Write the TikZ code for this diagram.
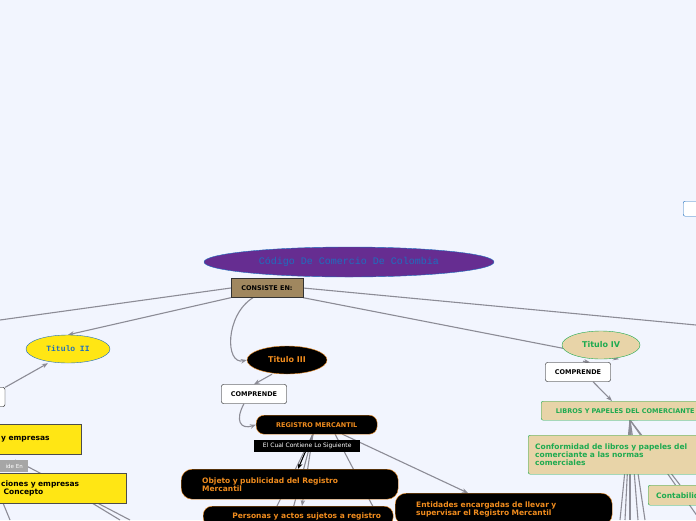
\documentclass[tikz,border=0pt]{standalone}
\usepackage{fontspec}
\setmainfont{DejaVu Sans}
\newfontfamily\monof{Liberation Mono}
\usetikzlibrary{shapes.geometric,arrows.meta,backgrounds}
\pgfdeclarelayer{bgfill}
\pgfsetlayers{bgfill,background,main}
\definecolor{bg}{RGB}{242,245,254}
\definecolor{purp}{RGB}{102,45,145}
\definecolor{blu}{RGB}{30,110,190}
\definecolor{brn}{RGB}{160,135,95}
\definecolor{org}{RGB}{240,140,30}
\definecolor{tan}{RGB}{232,212,168}
\definecolor{grn}{RGB}{30,170,80}
\definecolor{yel}{RGB}{255,230,20}
\definecolor{ln}{RGB}{140,140,150}
\tikzset{
 con/.style={draw=ln,line width=1.1pt},
 arr/.style={con,-{Stealth[length=6pt]}},
 blk/.style={draw=org,fill=black,text=org,font=\bfseries\fontsize{7.5}{8}\selectfont,rounded corners=11pt,align=left,anchor=north west,inner sep=0pt},
 wb/.style={draw=black,fill=white,rounded corners=2pt,font=\bfseries\fontsize{6.5}{7}\selectfont,minimum height=19pt,inner sep=3pt},
 tb/.style={draw=grn,fill=tan,text=grn,font=\bfseries\fontsize{7.5}{8}\selectfont,rounded corners=2pt,align=left,anchor=north west,inner sep=0pt},
 yb/.style={draw=black!70,fill=yel,font=\bfseries\fontsize{7.5}{8.5}\selectfont,align=left,anchor=north west,inner sep=0pt},
}
\begin{document}
\begin{tikzpicture}[x=1pt,y=-1pt]
\begin{pgfonlayer}{bgfill}
\fill[bg] (0,0) rectangle (696,520);
\end{pgfonlayer}
\useasboundingbox (0,0) rectangle (696,520);
% nodes
\node[ellipse,draw=blu,fill=purp,text=blu,minimum width=290pt,minimum height=30pt,font=\monof\fontsize{10}{11}\selectfont] (main) at (349,262) {Código De Comercio De Colombia};
\node[draw=black!80,fill=brn,minimum width=72pt,minimum height=19pt,inner sep=0pt,font=\bfseries\fontsize{6.5}{7}\selectfont] (cons) at (267,288) {CONSISTE EN:};
\node[ellipse,draw=blu,fill=yel,text=blu,minimum width=84pt,minimum height=28pt,font=\monof\bfseries\fontsize{8}{9}\selectfont] (t2) at (68,349) {Titulo II};
\node[ellipse,draw=org,fill=black,text=org,minimum width=80pt,minimum height=28pt,font=\bfseries\fontsize{8}{9}\selectfont] (t3) at (287,360) {Titulo III};
\node[ellipse,draw=grn,fill=tan,text=grn,minimum width=78pt,minimum height=28pt,font=\bfseries\fontsize{8}{9}\selectfont] (t4) at (601,345) {Titulo IV};
\node[draw=black,fill=white,rounded corners=2pt,minimum width=12pt,minimum height=19pt] (b2) at (-1,397) {};
\node[yb,minimum width=82pt,minimum height=30pt,text width=82pt] (y1) at (-1,424) {\hspace*{2pt}y empresas\\[7pt]};
\node[fill=gray!70,text=white,font=\fontsize{5.5}{6}\selectfont,anchor=north west,minimum width=28pt,minimum height=12pt,inner sep=1pt] (lab2) at (0,460) {ide En};
\node[yb,minimum width=127pt,minimum height=30pt,text width=127pt] (y2) at (-1,473) {\hspace*{2pt}ciones y empresas\\\hspace*{2pt}\ Concepto};
\node[wb,minimum width=65pt] (c3) at (254,394) {COMPRENDE};
\node[blk,minimum width=121pt,minimum height=19pt,rounded corners=8pt,font=\bfseries\fontsize{6.5}{7}\selectfont,align=center] (reg) at (256,415) {REGISTRO MERCANTIL};
\node[fill=black,text=white,font=\fontsize{6}{6.5}\selectfont,anchor=north west,minimum width=106pt,minimum height=12pt,inner sep=1pt] (lab3) at (254,440) {El Cual Contiene Lo Siguiente};
\node[blk,minimum width=217pt,minimum height=30pt,text width=217pt] (obj) at (181,469) {\hspace*{21pt}\parbox{180pt}{Objeto y publicidad del Registro\\Mercantil}};
\node[blk,minimum width=190pt,minimum height=20pt,rounded corners=9pt] (per) at (203,506) {\hspace*{17pt}Personas y actos sujetos a registro};
\node[blk,minimum width=217pt,minimum height=32pt,text width=217pt] (ent) at (395,493) {\hspace*{21pt}\parbox{185pt}{Entidades encargadas de llevar y\\supervisar el Registro Mercantil}};
\node[wb,minimum width=65pt] (c4) at (578,372) {COMPRENDE};
\node[tb,minimum width=160pt,minimum height=19pt,font=\bfseries\fontsize{6.5}{7}\selectfont] (lib) at (541,401) {\hspace*{8pt}LIBROS Y PAPELES DEL COMERCIANTE};
\node[tb,minimum width=172pt,minimum height=39pt,text width=172pt] (conf) at (528,435) {\hspace*{7pt}\parbox{165pt}{Conformidad de libros y papeles del\\comerciante a las normas\\comerciales}};
\node[tb,minimum width=60pt,minimum height=20pt] (cont) at (648,485) {\hspace*{8pt}Contabilidad\hspace*{8pt}};
\node[draw=blu,fill=white,rounded corners=2pt,anchor=north west,minimum width=20pt,minimum height=15pt] (tr) at (683,201) {};
% connectors
\begin{scope}[on background layer]
\coordinate (offL) at (0,320);
\coordinate (offR) at (696,325);
\coordinate (rs) at (313,434);
\coordinate (ls) at (630,420);
\draw[con] (cons.west) -- (offL);
\draw[arr] (cons.south west) -- (t2.north);
\draw[arr] (cons.south east) -- ([xshift=18pt]t4.south);
\draw[con] (cons.east) -- (offR);
\draw[arr] (b2.north east) -- ([xshift=-20pt]t2.south);
\draw[arr] ([xshift=-14pt]cons.south) .. controls (225,315) and (225,365) .. (t3.west);
\draw[arr] ([xshift=-15pt]t3.south) -- (c3.north);
\draw[arr] ([xshift=-10pt]c3.south) .. controls (235,420) and (240,430) .. (reg.west);
\draw[arr] ([xshift=-18pt,yshift=-2pt]t4.south) -- ([xshift=12pt]c4.north);
\draw[arr] ([xshift=15pt]c4.south) -- (612,401);
\draw[arr,black] (rs) -- (298,469);
\draw[con] (rs) -- (270,520);
\draw[con] (rs) -- (290,520);
\draw[arr] (rs) -- (302,506);
\draw[con] (335,434) -- (380,520);
\draw[arr] (342,434) -- (468,493);
\draw[con] (15,460) -- (130,520);
\draw[con] (92,503) -- (120,520);
\draw[con] (3,503) -- (10,520);
\foreach \x in {620,625,630,638,645} \draw[con] (ls) -- (\x,520);
\draw[con] (ls) -- (700,520);
\draw[con] (ls) -- (680,485);
\draw[con] (ls) -- (700,415);
\end{scope}
\end{tikzpicture}
\end{document}
